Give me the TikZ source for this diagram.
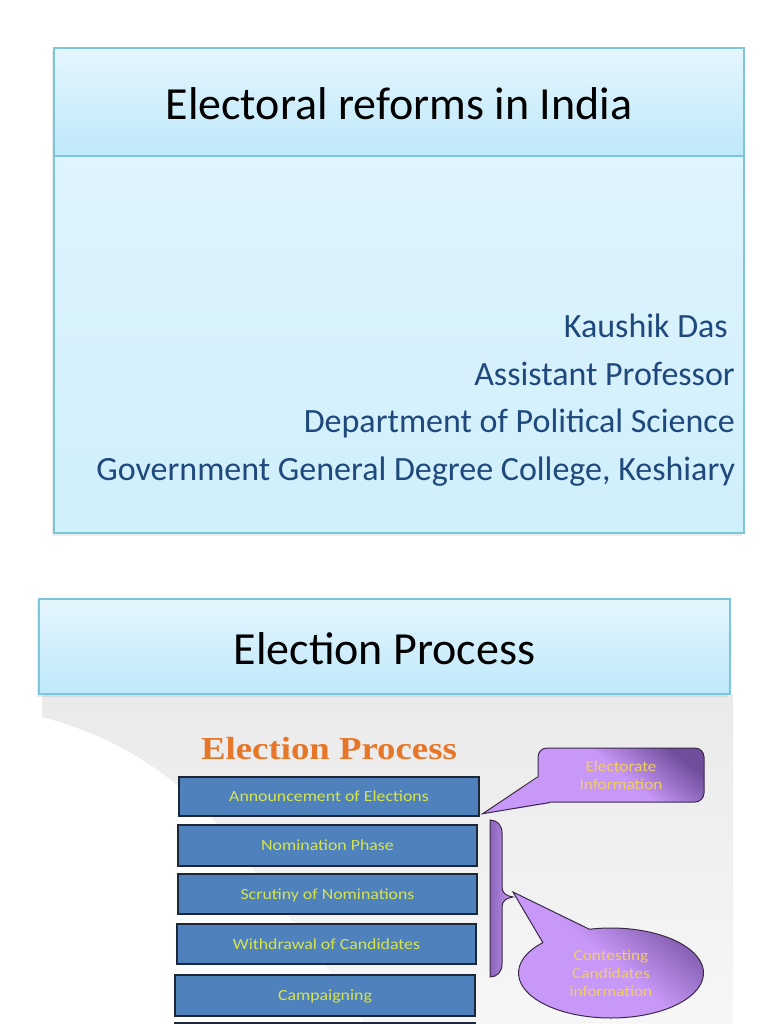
\documentclass[tikz,border=0pt]{standalone}
\usepackage{fontspec}
\setmainfont{Carlito}
\newfontfamily\stagefont[FakeStretch=1.15]{Carlito}
\newfontfamily\headfont[FakeStretch=1.15]{Liberation Serif}
\usetikzlibrary{shapes.callouts,shadows}

\definecolor{slideedge}{RGB}{124,198,220}
\definecolor{slidetop}{RGB}{229,246,253}
\definecolor{slidebot}{RGB}{190,232,250}
\definecolor{bodytop}{RGB}{228,245,253}
\definecolor{bodybot}{RGB}{207,239,251}
\definecolor{authorblue}{RGB}{31,73,125}
\definecolor{stageblue}{RGB}{79,129,189}
\definecolor{stageedge}{RGB}{28,40,56}
\definecolor{stagetext}{RGB}{214,228,78}
\definecolor{lav}{RGB}{200,152,248}
\definecolor{lavdark}{RGB}{112,78,156}
\definecolor{lavedge}{RGB}{58,42,72}
\definecolor{calltxt}{RGB}{240,206,96}
\definecolor{procorange}{RGB}{230,118,40}
\definecolor{imggray}{RGB}{234,234,234}

\begin{document}
\begin{tikzpicture}[x=1pt,y=-1pt,
  slidehead/.style={draw=slideedge,line width=1.2pt,top color=slidetop,bottom color=slidebot,
    inner sep=0pt,text height=35pt,text depth=0pt,font=\fontsize{46}{50}\selectfont},
  slideshadow/.style={drop shadow={opacity=0.15,shadow xshift=-2pt,shadow yshift=-3pt}},
  author/.style={anchor=base east,inner sep=0pt,text=authorblue,font=\fontsize{34}{40}\selectfont},
  stage/.style={draw=stageedge,line width=1.4pt,fill=stageblue,inner sep=0pt,
    text height=10.5pt,text depth=0pt,text=stagetext,font=\stagefont\fontsize{15.5}{18}\selectfont},
  purplefill/.style={top color=lavdark,bottom color=lav,middle color=lav,shading angle=-40},
  purpleedge/.style={draw=lavedge,line width=1pt},
  calltext/.style={text=calltxt,align=center,font=\stagefont\fontsize{15}{18}\selectfont}]
\useasboundingbox (0,0) rectangle (768,1024);

% slide 1
\path[draw=slideedge,line width=1.2pt,top color=bodytop,bottom color=bodybot,slideshadow]
  (54,48) rectangle (744,533);
\node[slidehead,minimum width=690pt,minimum height=108pt] (T1) at (399,102) {Electoral reforms in India};
\node[author] (A1) at (728,337) {Kaushik Das};
\node[author] (A2) at (735,385) {Assistant Professor};
\node[author] (A3) at (735,432) {Department of Political Science};
\node[author] (A4) at (735,480) {Government General Degree College, Keshiary};

% slide 2, picture part
\begin{scope}
  \clip (42,695) rectangle (733,1024);
  \shade[top color=imggray,bottom color=imggray!40] (42,695) rectangle (733,1024);
  \fill[white] (42,717) .. controls (110,735) and (175,770) .. (230,840)
    .. controls (285,910) and (330,970) .. (365,1024) -- (42,1024) -- cycle;
  \node[anchor=base,text=procorange,font=\headfont\bfseries\fontsize{32}{36}\selectfont] (H1) at (329,759) {Election Process};
  \node[stage,minimum width=300pt,minimum height=39pt] (P1) at (329,796.5) {Announcement of Elections};
  \node[stage,minimum width=299pt,minimum height=41pt] (P2) at (327.5,845.5) {Nomination Phase};
  \node[stage,minimum width=299pt,minimum height=40pt] (P3) at (327.5,894) {Scrutiny of Nominations};
  \node[stage,minimum width=299pt,minimum height=40pt] (P4) at (326.5,944) {Withdrawal of Candidates};
  \node[stage,minimum width=300pt,minimum height=41pt] (P5) at (325,995.5) {Campaigning};
  \node[stage,minimum width=300pt,minimum height=40pt] (P6) at (325,1043) {};
\end{scope}
\node[slidehead,slideshadow,minimum width=691pt,minimum height=95pt] (T2) at (384.5,646.5) {Election Process};

% callouts
\node[purpleedge,purplefill,calltext,rounded corners=9pt,minimum width=166pt,minimum height=54pt] (E1) at (621,775) {Electorate\\Information};
\coordinate (tip) at ([xshift=3pt,yshift=3pt]P1.south east);
\fill[lav] ([xshift=1.5pt,yshift=-2pt]E1.west) -- (tip) -- ([xshift=12pt,yshift=-1pt]E1.south west) -- cycle;
\draw[purpleedge] ([yshift=-2pt]E1.west) -- (tip) -- ([xshift=12pt]E1.south west);

\coordinate (BT) at (513,897);
\draw[purpleedge,left color=lavdark!70!lav,right color=lav] (490,820) .. controls (497,820) and (502,825) .. (502,833)
  -- (502,887) .. controls (502,893) and (506,896) .. (BT) .. controls (506,898) and (502,901) .. (502,907)
  -- (502,964) .. controls (502,972) and (497,977) .. (490,977) -- cycle;
\node[ellipse callout,purpleedge,purplefill,calltext,minimum width=185pt,minimum height=90pt,
  callout absolute pointer={([yshift=5pt]BT)},callout pointer arc=34] (E2) at (611,973) {Contesting\\Candidates\\information};
\end{tikzpicture}
\end{document}
